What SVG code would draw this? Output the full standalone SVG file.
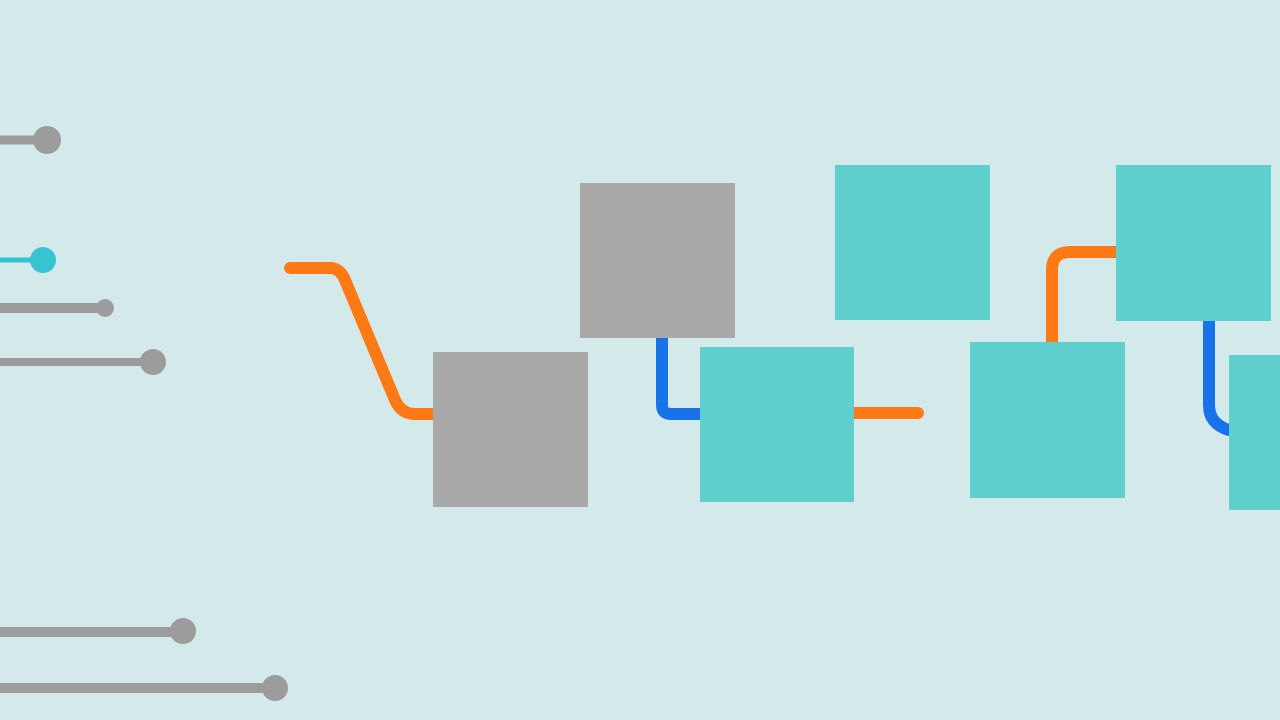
<svg xmlns="http://www.w3.org/2000/svg" width="1280" height="720" viewBox="0 0 1280 720">
<style>
.gray{fill:#a9a9a9}
.teal{fill:#5ecfcc}
.gl{stroke:#9c9c9c;fill:none;stroke-linecap:round}
.gd{fill:#9c9c9c}
.or{stroke:#ff7a14;stroke-width:12;fill:none;stroke-linecap:round;stroke-linejoin:round}
.bl{stroke:#1872ea;stroke-width:12;fill:none;stroke-linecap:round;stroke-linejoin:round}
</style>
<rect width="1280" height="720" fill="#d4e9ea"/>
<g id="legend">
<line class="gl" x1="-10" y1="140" x2="47" y2="140" stroke-width="9"/><circle class="gd" cx="47" cy="140" r="14"/>
<line x1="-10" y1="260" x2="43" y2="260" stroke="#2ec4d3" stroke-width="5"/><circle cx="43" cy="260" r="13" fill="#36c4d0"/>
<line class="gl" x1="-10" y1="308" x2="105" y2="308" stroke-width="10"/><circle class="gd" cx="105" cy="308" r="9"/>
<line class="gl" x1="-10" y1="362" x2="153" y2="362" stroke-width="8"/><circle class="gd" cx="153" cy="362" r="13"/>
<line class="gl" x1="-10" y1="632" x2="183" y2="632" stroke-width="10"/><circle class="gd" cx="183" cy="631" r="13"/>
<line class="gl" x1="-10" y1="688" x2="275" y2="688" stroke-width="10"/><circle class="gd" cx="275" cy="688" r="13"/>
</g>
<g id="connectors">
<path class="or" d="M290 268 H330 Q340 268 345 280 L395 400 Q401 414 415 414 H433"/>
<path class="bl" d="M662 338 V405 Q662 414 671 414 H700"/>
<path class="or" d="M854 413 H918"/>
<path class="or" d="M1052 342 V270 Q1052 252 1070 252 H1116"/>
<path class="bl" d="M1209 321 V405 Q1209 424 1229 430"/>
</g>
<g id="n1"><rect class="gray" x="580" y="183" width="155" height="155"/></g>
<g id="n2"><rect class="gray" x="433" y="352" width="155" height="155"/></g>
<g id="n3"><rect class="teal" x="700" y="347" width="154" height="155"/></g>
<g id="n4"><rect class="teal" x="835" y="165" width="155" height="155"/></g>
<g id="n5"><rect class="teal" x="970" y="342" width="155" height="156"/></g>
<g id="n6"><rect class="teal" x="1116" y="165" width="155" height="156"/></g>
<g id="n7"><rect class="teal" x="1229" y="355" width="60" height="155"/></g>
</svg>
